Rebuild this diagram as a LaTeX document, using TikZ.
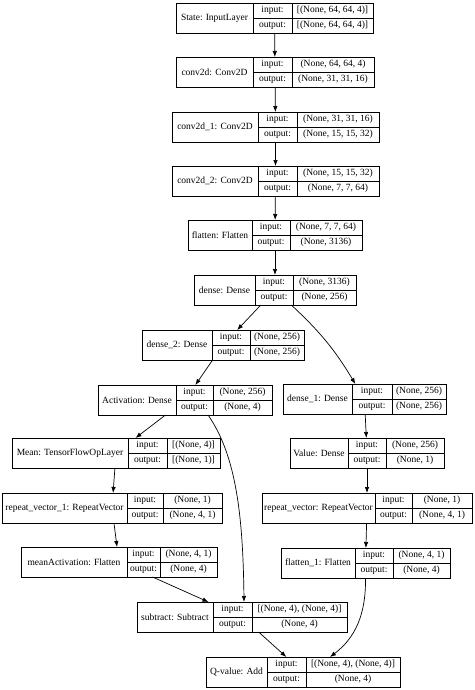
\documentclass[tikz,border=0pt]{standalone}
\usepackage{fontspec}
\setmainfont{Liberation Serif}
\usetikzlibrary{arrows.meta}
\tikzset{>={Latex[length=6pt,width=4.5pt]}}
\tikzset{
  box/.style={draw, inner sep=0pt, outer sep=0pt, minimum height=30pt},
  cell/.style={draw, inner sep=0pt, outer sep=0pt, minimum height=15pt}
}
% \layer{id}{left}{div1}{div2}{right}{top}{name}{input}{output}
\newcommand{\layer}[9]{%
  \node[box, minimum width={#5-#2}, anchor=north west] (#1) at (#2,#6) {};
  \node[box, minimum width={#3-#2}, anchor=north west] (#1-n) at (#2,#6) {#7};
  \node[cell, minimum width={#4-#3}, anchor=north west] (#1-li) at (#3,#6) {input:};
  \node[cell, minimum width={#4-#3}, anchor=north west] (#1-lo) at (#3,#6+15) {output:};
  \node[cell, minimum width={#5-#4}, anchor=north west] (#1-vi) at (#4,#6) {#8};
  \node[cell, minimum width={#5-#4}, anchor=north west] (#1-vo) at (#4,#6+15) {#9};
}

\begin{document}
\begin{tikzpicture}[x=1pt, y=-1pt, line width=0.7pt, font=\fontsize{9.5}{11}\selectfont]
  \useasboundingbox (0,0) rectangle (474,690);
  \layer{inp}{176}{253}{292}{373}{3}{State: InputLayer}{[(None, 64, 64, 4)]}{[(None, 64, 64, 4)]}
  \layer{cv0}{176}{253}{292}{374}{57}{conv2d: Conv2D}{(None, 64, 64, 4)}{(None, 31, 31, 16)}
  \layer{cv1}{172}{258}{297}{379}{112}{conv2d\_1: Conv2D}{(None, 31, 31, 16)}{(None, 15, 15, 32)}
  \layer{cv2}{172}{258}{297}{379}{166}{conv2d\_2: Conv2D}{(None, 15, 15, 32)}{(None, 7, 7, 64)}
  \layer{fl}{188}{252}{290}{362}{220}{flatten: Flatten}{(None, 7, 7, 64)}{(None, 3136)}
  \layer{de}{194}{255}{293}{356}{275}{dense: Dense}{(None, 3136)}{(None, 256)}
  \layer{de2}{142}{212}{250}{304}{330}{dense\_2: Dense}{(None, 256)}{(None, 256)}
  \layer{act}{98}{176}{213}{272}{385}{Activation: Dense}{(None, 256)}{(None, 4)}
  \layer{de1}{283}{352}{392}{446}{384}{dense\_1: Dense}{(None, 256)}{(None, 256)}
  \layer{mean}{12}{128}{167}{220}{438}{Mean: TensorFlowOpLayer}{[(None, 4)]}{[(None, 1)]}
  \layer{val}{290}{348}{386}{444}{438}{Value: Dense}{(None, 256)}{(None, 1)}
  \layer{rv1}{2}{127}{163}{222}{493}{repeat\_vector\_1: RepeatVector}{(None, 1)}{(None, 4, 1)}
  \layer{rv}{262}{375}{412}{472}{493}{repeat\_vector: RepeatVector}{(None, 1)}{(None, 4, 1)}
  \layer{ma}{21}{127}{160}{217}{547}{meanActivation: Flatten}{(None, 4, 1)}{(None, 4)}
  \layer{fl1}{281}{355}{393}{450}{548}{flatten\_1: Flatten}{(None, 4, 1)}{(None, 4)}
  \layer{sub}{137}{213}{252}{347}{602}{subtract: Subtract}{[(None, 4), (None, 4)]}{(None, 4)}
  \layer{q}{206}{267}{306}{400}{657}{Q-value: Add}{[(None, 4), (None, 4)]}{(None, 4)}

  \draw[->] (inp) -- (cv0);
  \draw[->] (cv0) -- (cv1);
  \draw[->] (cv1) -- (cv2);
  \draw[->] (cv2) -- (fl);
  \draw[->] (fl) -- (de);
  \draw[->] (de) -- (de2);
  \draw[->] (de) to[bend left=8] (de1);
  \draw[->] (de2) -- (act);
  \draw[->] (act) -- (mean);
  \draw[->] ([xshift=23pt]act.south) .. controls (236,455) and (243,515) .. ([xshift=2pt]sub.north);
  \draw[->] (mean) -- (rv1);
  \draw[->] (rv1) -- (ma);
  \draw[->] (ma) -- (sub);
  \draw[->] (de1) -- (val);
  \draw[->] (val) -- (rv);
  \draw[->] (rv) -- (fl1);
  \draw[->] (fl1.south) .. controls (366,615) and (355,638) .. ([xshift=27pt]q.north);
  \draw[->] (sub) -- (q);
\end{tikzpicture}
\end{document}
